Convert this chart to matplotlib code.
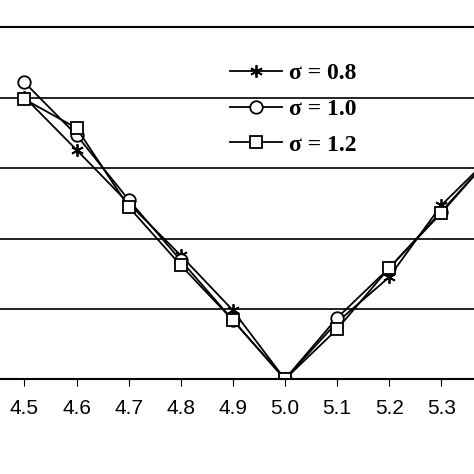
import matplotlib
matplotlib.use("Agg")
import matplotlib.pyplot as plt

x = [4.5, 4.6, 4.7, 4.8, 4.9, 5.0, 5.1, 5.2, 5.3, 5.4]
s08 = [4.01, 3.26, 2.50, 1.76, 0.98, 0.0, 0.81, 1.45, 2.47, 3.2]
s10 = [4.22, 3.47, 2.55, 1.69, 0.84, 0.0, 0.87, 1.58, 2.38, 3.2]
s12 = [3.98, 3.57, 2.45, 1.62, 0.84, 0.0, 0.71, 1.58, 2.36, 3.2]
xticklabels = ["4.5", "4.6", "4.7", "4.8", "4.9", "5.0", "5.1", "5.2", "5.3"]

fig = plt.figure(figsize=(4.74, 4.74), dpi=100)
ax = fig.add_axes([0, 0.2, 1, 0.742])
ax.set_xlim(4.453, 5.363)
ax.set_ylim(0, 5)
ax.set_yticks([0, 1, 2, 3, 4, 5])
ax.yaxis.grid(True, color="black", lw=1.2)
ax.set_yticklabels([])
ax.tick_params(axis="y", length=0)
for s in ["left", "right"]:
    ax.spines[s].set_visible(False)
ax.spines["top"].set_linewidth(1.5)
ax.spines["bottom"].set_linewidth(1.5)
ax.set_xticks(x[:9])
ax.set_xticklabels(xticklabels, fontsize=15, family="Liberation Sans")
ax.tick_params(axis="x", length=5, width=0.8, pad=9)

kw = dict(color="black", lw=1.3)
ax.plot(x, s08, marker=(6, 2, 0), ms=9, mew=1.3, label="σ = 0.8", **kw)
ax.plot(x, s10, marker="o", ms=9, mfc="white", mew=1.3, label="σ = 1.0", **kw)
ax.plot(x, s12, marker="s", ms=9, mfc="white", mew=1.3, label="σ = 1.2", **kw)

ax.legend(loc="upper left", bbox_to_anchor=(0.44, 0.96), frameon=False,
          prop={"family": "Liberation Serif", "size": 17, "weight": "bold"},
          handlelength=2.2, handletextpad=0.3, labelspacing=0.6)

fig.savefig("out.png", dpi=100)
